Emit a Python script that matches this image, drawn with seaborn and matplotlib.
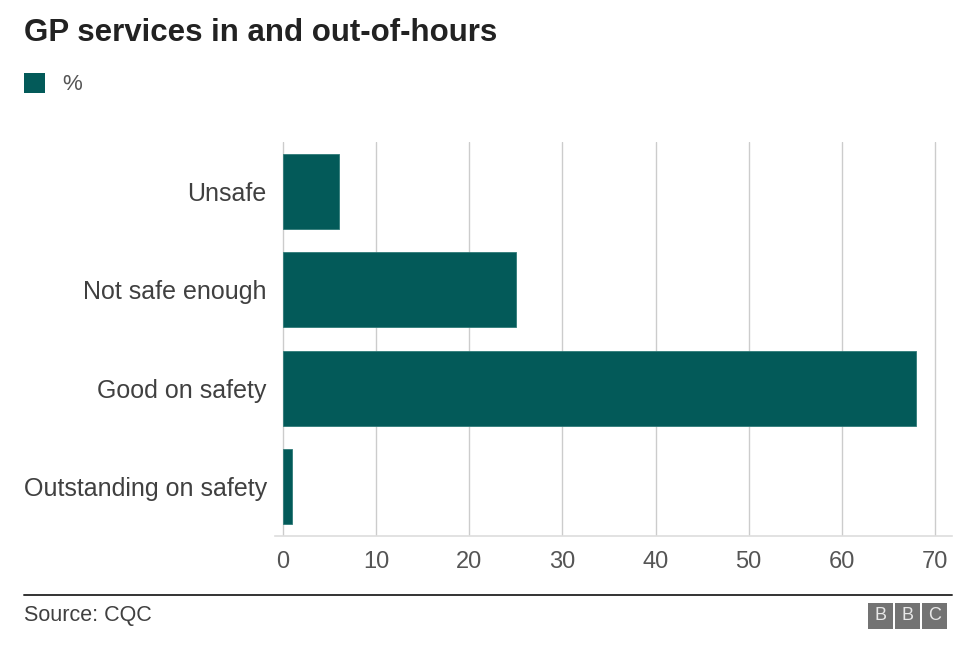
import matplotlib
matplotlib.use("Agg")
import matplotlib.pyplot as plt
import seaborn as sns
import pandas as pd
from matplotlib.patches import Rectangle

categories = ["Unsafe", "Not safe enough", "Good on safety", "Outstanding on safety"]
values = [6, 25, 68, 1]
xticks = [0, 10, 20, 30, 40, 50, 60, 70]

title = "GP services in and out-of-hours"
legend_label = "%"
source = "Source: CQC"

BAR = "#035a59"
W, H = 976, 645

sns.set_theme(style="white")
plt.rcParams["font.family"] = ["Liberation Sans", "DejaVu Sans"]

df = pd.DataFrame({"category": categories, "value": values})

fig = plt.figure(figsize=(W / 100, H / 100), dpi=100)
fig.patch.set_facecolor("white")

def fx(px):
    return px / W

def fy(py):
    return 1 - py / H

ax = fig.add_axes([fx(275), fy(536), fx(952) - fx(275), fy(142) - fy(536)])
sns.barplot(data=df, x="value", y="category", orient="h", color=BAR,
            width=0.76, saturation=1, edgecolor="#2f7a78", linewidth=0.6, ax=ax, zorder=3)

ax.set_xlim(-0.86, 71.83)
ax.set_ylim(3.5, -0.5)
ax.set_xticks(xticks)
ax.set_xticklabels([str(t) for t in xticks])
ax.set_xlabel("")
ax.set_ylabel("")
ax.grid(axis="x", color="#cccccc", linewidth=1.0, zorder=0)
ax.grid(axis="y", visible=False)
for s in ["top", "right", "left"]:
    ax.spines[s].set_visible(False)
ax.spines["bottom"].set_color("#dddddd")
ax.spines["bottom"].set_linewidth(1.2)

ax.tick_params(axis="x", length=0, pad=10.5, labelsize=17, labelcolor="#555555")
ax.tick_params(axis="y", length=0, pad=6, labelsize=18, labelcolor="#404040")
ax.set_yticks([0.5, 1.5, 2.5], minor=True)
ax.tick_params(axis="y", which="minor", direction="in", length=6, color="#dddddd", width=1)

# title & legend
fig.text(fx(24), fy(33), title, fontsize=22.5, fontweight="bold", color="#222222",
         ha="left", va="center")
fig.patches.append(Rectangle((fx(24), fy(93)), fx(21), fy(73) - fy(93),
                             transform=fig.transFigure, facecolor=BAR, edgecolor="none"))
fig.text(fx(62), fy(84), legend_label, fontsize=16, color="#555555", ha="left", va="center")

# footer
fig.add_artist(plt.Line2D([fx(24), fx(952)], [fy(595), fy(595)], color="#333333",
                          linewidth=1.4, transform=fig.transFigure))
fig.text(fx(24), fy(615), source, fontsize=15.5, color="#404040", ha="left", va="center")
for i, letter in enumerate("BBC"):
    x0 = 868 + i * 27
    fig.patches.append(Rectangle((fx(x0), fy(629)), fx(25), fy(603) - fy(629),
                                 transform=fig.transFigure, facecolor="#737373", edgecolor="none"))
    fig.text(fx(x0 + 12.5), fy(616), letter, fontsize=13,
             color="#e8e8e8", ha="center", va="center")

fig.savefig("out.png", dpi=100, facecolor="white")
